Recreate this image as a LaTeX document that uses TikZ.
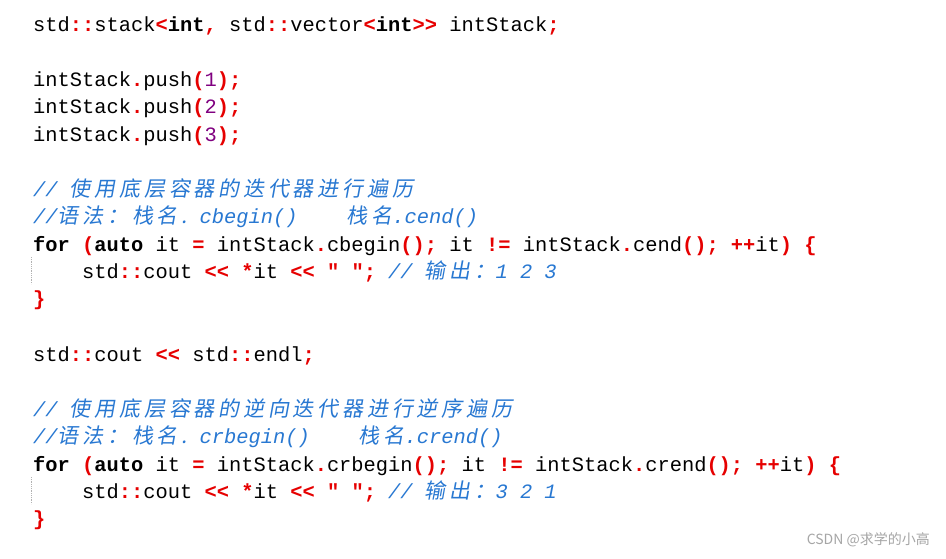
\documentclass[tikz,border=0pt]{standalone}
\usepackage{fontspec}
\setmonofont{Liberation Mono}
\newfontfamily\cjk[FakeSlant=0.18,LetterSpace=18]{Noto Sans CJK SC}
\newfontfamily\wm{Noto Sans CJK SC}
\definecolor{kr}{RGB}{230,0,0}
\definecolor{kp}{RGB}{128,0,128}
\definecolor{kc}{RGB}{40,120,210}
\newcommand{\R}[1]{\textcolor{kr}{\bfseries #1}}
\newcommand{\K}[1]{{\bfseries #1}}
\newcommand{\N}[1]{\textcolor{kp}{#1}}
\newcommand{\C}[1]{\textcolor{kc}{\itshape #1}}
\newcommand{\Z}[1]{{\cjk\fontsize{21}{24}\selectfont #1}}
\tikzset{ln/.style={anchor=base west,inner sep=0,font=\ttfamily\fontsize{20.4}{24}\selectfont}}
\begin{document}
\begin{tikzpicture}[x=1pt,y=-1pt]
\useasboundingbox[fill=white] (0,0) rectangle (946,558);
\def\xa{33}
\node[ln] (l1) at (\xa,31) {std\R{::}stack\R{<}\K{int}\R{,} std\R{::}vector\R{<}\K{int}\R{>>} intStack\R{;}};
\node[ln] (l2) at (\xa,86) {intStack\R{.}push\R{(}\N{1}\R{);}};
\node[ln] (l3) at (\xa,113.5) {intStack\R{.}push\R{(}\N{2}\R{);}};
\node[ln] (l4) at (\xa,141) {intStack\R{.}push\R{(}\N{3}\R{);}};
\node[ln] (l5) at (\xa,196) {\C{// \Z{使用底层容器的迭代器进行遍历}}};
\node[ln] (l6) at (\xa,223.5) {\C{//\Z{语法：栈名.} cbegin()\ \ \ \ \Z{栈名}.cend()}};
\node[ln] (l7) at (\xa,251) {\K{for} \R{(}\K{auto} it \R{=} intStack\R{.}cbegin\R{();} it \R{!=} intStack\R{.}cend\R{();} \R{++}it\R{)} \R{\{}};
\node[ln] (l8) at (82,278) {std\R{::}cout \R{<<} \R{*}it \R{<<} \R{" ";} \C{// \Z{输出：}1 2 3}};
\node[ln] (l9) at (\xa,305.5) {\R{\}}};
\node[ln] (l10) at (\xa,361) {std\R{::}cout \R{<<} std\R{::}endl\R{;}};
\node[ln] (l11) at (\xa,416) {\C{// \Z{使用底层容器的逆向迭代器进行逆序遍历}}};
\node[ln] (l12) at (\xa,443.5) {\C{//\Z{语法：栈名.} crbegin()\ \ \ \ \Z{栈名}.crend()}};
\node[ln] (l13) at (\xa,471) {\K{for} \R{(}\K{auto} it \R{=} intStack\R{.}crbegin\R{();} it \R{!=} intStack\R{.}crend\R{();} \R{++}it\R{)} \R{\{}};
\node[ln] (l14) at (82,498) {std\R{::}cout \R{<<} \R{*}it \R{<<} \R{" ";} \C{// \Z{输出：}3 2 1}};
\node[ln] (l15) at (\xa,525.5) {\R{\}}};
\draw[gray!60,densely dotted,line width=0.8] (31,257) -- (31,284);
\draw[gray!60,densely dotted,line width=0.8] (31,477) -- (31,504);
\node[anchor=east,inner sep=0,text=gray!70,font=\wm\fontsize{14}{16}\selectfont] (wm) at (930,540) {CSDN @求学的小高};
\end{tikzpicture}
\end{document}
